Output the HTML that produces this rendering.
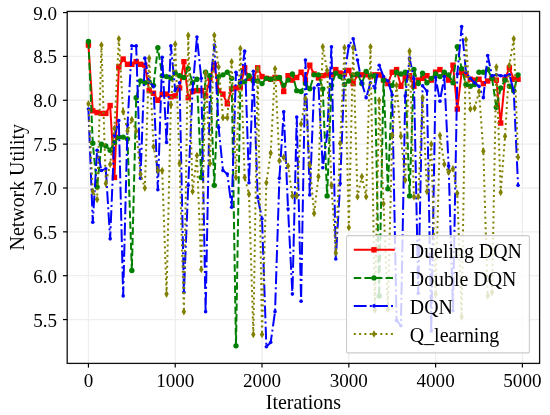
<!DOCTYPE html><html><head><meta charset="utf-8"><title>Network Utility vs Iterations</title><style>html,body{margin:0;padding:0;background:#fff;overflow:hidden}svg{display:block;filter:blur(0.35px)}</style></head><body><svg width="550" height="415" viewBox="0 0 550 415"><rect x="0" y="0" width="550" height="415" fill="#fff"/><g stroke="#eeeeee" stroke-width="1.3"><line x1="88.44" y1="11.4" x2="88.44" y2="363.4"/><line x1="175.23" y1="11.4" x2="175.23" y2="363.4"/><line x1="262.02" y1="11.4" x2="262.02" y2="363.4"/><line x1="348.82" y1="11.4" x2="348.82" y2="363.4"/><line x1="435.61" y1="11.4" x2="435.61" y2="363.4"/><line x1="522.4" y1="11.4" x2="522.4" y2="363.4"/><line x1="67.2" y1="319.56" x2="539.6" y2="319.56"/><line x1="67.2" y1="275.7" x2="539.6" y2="275.7"/><line x1="67.2" y1="231.84" x2="539.6" y2="231.84"/><line x1="67.2" y1="187.99" x2="539.6" y2="187.99"/><line x1="67.2" y1="144.13" x2="539.6" y2="144.13"/><line x1="67.2" y1="100.27" x2="539.6" y2="100.27"/><line x1="67.2" y1="56.42" x2="539.6" y2="56.42"/><line x1="67.2" y1="12.56" x2="539.6" y2="12.56"/></g><defs><clipPath id="c"><rect x="67.2" y="11.4" width="472.40000000000003" height="352.0"/></clipPath><path id="mS" d="M-2.75,-2.75h5.5v5.5h-5.5z"/></defs><g clip-path="url(#c)"><polyline points="88.44,45.01 92.78,110.8 97.12,112.55 101.46,113.43 105.8,113.43 110.14,105.54 114.48,177.46 118.82,66.94 123.16,59.05 127.5,64.31 131.84,64.31 136.18,61.68 140.52,64.31 144.85,65.19 149.19,90.63 153.53,93.26 157.87,100.27 162.21,94.13 166.55,94.13 170.89,96.77 175.23,95.89 179.57,87.99 183.91,61.68 188.25,97.64 192.59,91.5 196.93,90.63 201.27,90.63 205.61,95.89 209.95,78.35 214.29,65.19 218.63,90.63 222.97,94.13 227.31,103.78 231.65,88.87 235.99,87.99 240.33,87.12 244.67,67.82 249.01,78.35 253.34,79.22 257.68,67.82 262.02,76.59 266.36,78.35 270.7,79.22 275.04,77.47 279.38,78.35 283.72,91.5 288.06,75.71 292.4,80.1 296.74,77.47 301.08,72.21 305.42,80.1 309.76,65.19 314.1,73.96 318.44,77.91 322.78,75.71 327.12,74.84 331.46,74.84 335.8,69.57 340.14,73.08 344.48,73.96 348.82,70.45 353.16,83.61 357.5,74.84 361.83,74.84 366.17,74.84 370.51,76.59 374.85,74.84 379.19,74.84 383.53,80.1 387.87,83.61 392.21,72.21 396.55,69.57 400.89,86.24 405.23,77.47 409.57,75.71 413.91,86.24 418.25,80.1 422.59,78.35 426.93,75.71 431.27,80.1 435.61,72.21 439.95,69.57 444.29,73.96 448.63,80.1 452.97,65.19 457.31,109.05 461.65,72.21 465.99,74.84 470.32,79.22 474.66,80.1 479,79.22 483.34,83.61 487.68,80.98 492.02,78.35 496.36,80.1 500.7,123.08 505.04,79.22 509.38,67.82 513.72,79.22 518.06,79.22" fill="none" stroke="#ff0000" stroke-width="2.0" stroke-linejoin="round" stroke-linecap="butt"/><g fill="#ff0000"><rect x="85.74" y="42.31" width="5.4" height="5.4"/><rect x="90.08" y="108.1" width="5.4" height="5.4"/><rect x="94.42" y="109.85" width="5.4" height="5.4"/><rect x="98.76" y="110.73" width="5.4" height="5.4"/><rect x="103.1" y="110.73" width="5.4" height="5.4"/><rect x="107.44" y="102.84" width="5.4" height="5.4"/><rect x="111.78" y="174.76" width="5.4" height="5.4"/><rect x="116.12" y="64.24" width="5.4" height="5.4"/><rect x="120.46" y="56.35" width="5.4" height="5.4"/><rect x="124.8" y="61.61" width="5.4" height="5.4"/><rect x="129.14" y="61.61" width="5.4" height="5.4"/><rect x="133.48" y="58.98" width="5.4" height="5.4"/><rect x="137.82" y="61.61" width="5.4" height="5.4"/><rect x="142.15" y="62.49" width="5.4" height="5.4"/><rect x="146.49" y="87.93" width="5.4" height="5.4"/><rect x="150.83" y="90.56" width="5.4" height="5.4"/><rect x="155.17" y="97.57" width="5.4" height="5.4"/><rect x="159.51" y="91.43" width="5.4" height="5.4"/><rect x="163.85" y="91.43" width="5.4" height="5.4"/><rect x="168.19" y="94.07" width="5.4" height="5.4"/><rect x="172.53" y="93.19" width="5.4" height="5.4"/><rect x="176.87" y="85.29" width="5.4" height="5.4"/><rect x="181.21" y="58.98" width="5.4" height="5.4"/><rect x="185.55" y="94.94" width="5.4" height="5.4"/><rect x="189.89" y="88.8" width="5.4" height="5.4"/><rect x="194.23" y="87.93" width="5.4" height="5.4"/><rect x="198.57" y="87.93" width="5.4" height="5.4"/><rect x="202.91" y="93.19" width="5.4" height="5.4"/><rect x="207.25" y="75.65" width="5.4" height="5.4"/><rect x="211.59" y="62.49" width="5.4" height="5.4"/><rect x="215.93" y="87.93" width="5.4" height="5.4"/><rect x="220.27" y="91.43" width="5.4" height="5.4"/><rect x="224.61" y="101.08" width="5.4" height="5.4"/><rect x="228.95" y="86.17" width="5.4" height="5.4"/><rect x="233.29" y="85.29" width="5.4" height="5.4"/><rect x="237.63" y="84.42" width="5.4" height="5.4"/><rect x="241.97" y="65.12" width="5.4" height="5.4"/><rect x="246.31" y="75.65" width="5.4" height="5.4"/><rect x="250.64" y="76.52" width="5.4" height="5.4"/><rect x="254.98" y="65.12" width="5.4" height="5.4"/><rect x="259.32" y="73.89" width="5.4" height="5.4"/><rect x="263.66" y="75.65" width="5.4" height="5.4"/><rect x="268" y="76.52" width="5.4" height="5.4"/><rect x="272.34" y="74.77" width="5.4" height="5.4"/><rect x="276.68" y="75.65" width="5.4" height="5.4"/><rect x="281.02" y="88.8" width="5.4" height="5.4"/><rect x="285.36" y="73.01" width="5.4" height="5.4"/><rect x="289.7" y="77.4" width="5.4" height="5.4"/><rect x="294.04" y="74.77" width="5.4" height="5.4"/><rect x="298.38" y="69.51" width="5.4" height="5.4"/><rect x="302.72" y="77.4" width="5.4" height="5.4"/><rect x="307.06" y="62.49" width="5.4" height="5.4"/><rect x="311.4" y="71.26" width="5.4" height="5.4"/><rect x="315.74" y="75.21" width="5.4" height="5.4"/><rect x="320.08" y="73.01" width="5.4" height="5.4"/><rect x="324.42" y="72.14" width="5.4" height="5.4"/><rect x="328.76" y="72.14" width="5.4" height="5.4"/><rect x="333.1" y="66.87" width="5.4" height="5.4"/><rect x="337.44" y="70.38" width="5.4" height="5.4"/><rect x="341.78" y="71.26" width="5.4" height="5.4"/><rect x="346.12" y="67.75" width="5.4" height="5.4"/><rect x="350.46" y="80.91" width="5.4" height="5.4"/><rect x="354.8" y="72.14" width="5.4" height="5.4"/><rect x="359.13" y="72.14" width="5.4" height="5.4"/><rect x="363.47" y="72.14" width="5.4" height="5.4"/><rect x="367.81" y="73.89" width="5.4" height="5.4"/><rect x="372.15" y="72.14" width="5.4" height="5.4"/><rect x="376.49" y="72.14" width="5.4" height="5.4"/><rect x="380.83" y="77.4" width="5.4" height="5.4"/><rect x="385.17" y="80.91" width="5.4" height="5.4"/><rect x="389.51" y="69.51" width="5.4" height="5.4"/><rect x="393.85" y="66.87" width="5.4" height="5.4"/><rect x="398.19" y="83.54" width="5.4" height="5.4"/><rect x="402.53" y="74.77" width="5.4" height="5.4"/><rect x="406.87" y="73.01" width="5.4" height="5.4"/><rect x="411.21" y="83.54" width="5.4" height="5.4"/><rect x="415.55" y="77.4" width="5.4" height="5.4"/><rect x="419.89" y="75.65" width="5.4" height="5.4"/><rect x="424.23" y="73.01" width="5.4" height="5.4"/><rect x="428.57" y="77.4" width="5.4" height="5.4"/><rect x="432.91" y="69.51" width="5.4" height="5.4"/><rect x="437.25" y="66.87" width="5.4" height="5.4"/><rect x="441.59" y="71.26" width="5.4" height="5.4"/><rect x="445.93" y="77.4" width="5.4" height="5.4"/><rect x="450.27" y="62.49" width="5.4" height="5.4"/><rect x="454.61" y="106.35" width="5.4" height="5.4"/><rect x="458.95" y="69.51" width="5.4" height="5.4"/><rect x="463.29" y="72.14" width="5.4" height="5.4"/><rect x="467.62" y="76.52" width="5.4" height="5.4"/><rect x="471.96" y="77.4" width="5.4" height="5.4"/><rect x="476.3" y="76.52" width="5.4" height="5.4"/><rect x="480.64" y="80.91" width="5.4" height="5.4"/><rect x="484.98" y="78.28" width="5.4" height="5.4"/><rect x="489.32" y="75.65" width="5.4" height="5.4"/><rect x="493.66" y="77.4" width="5.4" height="5.4"/><rect x="498" y="120.38" width="5.4" height="5.4"/><rect x="502.34" y="76.52" width="5.4" height="5.4"/><rect x="506.68" y="65.12" width="5.4" height="5.4"/><rect x="511.02" y="76.52" width="5.4" height="5.4"/><rect x="515.36" y="76.52" width="5.4" height="5.4"/></g><polyline points="88.44,41.51 92.78,143.25 97.12,187.11 101.46,144.13 105.8,145.89 110.14,150.27 114.48,142.38 118.82,137.11 123.16,137.11 127.5,138.87 131.84,270.44 136.18,97.64 140.52,80.98 144.85,82.73 149.19,81.85 153.53,85.36 157.87,47.65 162.21,75.71 166.55,76.59 170.89,78.35 175.23,73.08 179.57,75.71 183.91,77.47 188.25,68.7 192.59,82.73 196.93,79.22 201.27,177.46 205.61,72.21 209.95,75.71 214.29,185.36 218.63,76.59 222.97,74.84 227.31,72.21 231.65,78.35 235.99,345.87 240.33,82.73 244.67,81.85 249.01,75.71 253.34,80.98 257.68,80.98 262.02,83.61 266.36,78.35 270.7,79.22 275.04,78.35 279.38,77.47 283.72,85.36 288.06,80.1 292.4,73.96 296.74,90.63 301.08,91.5 305.42,83.61 309.76,88.87 314.1,74.84 318.44,74.84 322.78,88.87 327.12,195.88 331.46,85.36 335.8,73.08 340.14,76.59 344.48,84.49 348.82,80.98 353.16,74.84 357.5,73.96 361.83,83.61 366.17,71.33 370.51,75.71 374.85,75.71 379.19,295.88 383.53,80.1 387.87,188.87 392.21,85.36 396.55,72.21 400.89,73.96 405.23,72.21 409.57,195.88 413.91,69.57 418.25,83.61 422.59,73.08 426.93,82.73 431.27,78.35 435.61,73.96 439.95,76.59 444.29,72.21 448.63,74.84 452.97,82.73 457.31,46.77 461.65,68.7 465.99,84.49 470.32,86.24 474.66,84.49 479,72.21 483.34,72.21 487.68,69.57 492.02,78.35 496.36,107.29 500.7,87.99 505.04,80.1 509.38,86.24 513.72,90.63 518.06,74.84" fill="none" stroke="#008000" stroke-width="2.0" stroke-linejoin="round" stroke-linecap="butt" stroke-dasharray="7.4,3.2"/><g fill="#008000"><circle cx="88.44" cy="41.51" r="2.7"/><circle cx="92.78" cy="143.25" r="2.7"/><circle cx="97.12" cy="187.11" r="2.7"/><circle cx="101.46" cy="144.13" r="2.7"/><circle cx="105.8" cy="145.89" r="2.7"/><circle cx="110.14" cy="150.27" r="2.7"/><circle cx="114.48" cy="142.38" r="2.7"/><circle cx="118.82" cy="137.11" r="2.7"/><circle cx="123.16" cy="137.11" r="2.7"/><circle cx="127.5" cy="138.87" r="2.7"/><circle cx="131.84" cy="270.44" r="2.7"/><circle cx="136.18" cy="97.64" r="2.7"/><circle cx="140.52" cy="80.98" r="2.7"/><circle cx="144.85" cy="82.73" r="2.7"/><circle cx="149.19" cy="81.85" r="2.7"/><circle cx="153.53" cy="85.36" r="2.7"/><circle cx="157.87" cy="47.65" r="2.7"/><circle cx="162.21" cy="75.71" r="2.7"/><circle cx="166.55" cy="76.59" r="2.7"/><circle cx="170.89" cy="78.35" r="2.7"/><circle cx="175.23" cy="73.08" r="2.7"/><circle cx="179.57" cy="75.71" r="2.7"/><circle cx="183.91" cy="77.47" r="2.7"/><circle cx="188.25" cy="68.7" r="2.7"/><circle cx="192.59" cy="82.73" r="2.7"/><circle cx="196.93" cy="79.22" r="2.7"/><circle cx="201.27" cy="177.46" r="2.7"/><circle cx="205.61" cy="72.21" r="2.7"/><circle cx="209.95" cy="75.71" r="2.7"/><circle cx="214.29" cy="185.36" r="2.7"/><circle cx="218.63" cy="76.59" r="2.7"/><circle cx="222.97" cy="74.84" r="2.7"/><circle cx="227.31" cy="72.21" r="2.7"/><circle cx="231.65" cy="78.35" r="2.7"/><circle cx="235.99" cy="345.87" r="2.7"/><circle cx="240.33" cy="82.73" r="2.7"/><circle cx="244.67" cy="81.85" r="2.7"/><circle cx="249.01" cy="75.71" r="2.7"/><circle cx="253.34" cy="80.98" r="2.7"/><circle cx="257.68" cy="80.98" r="2.7"/><circle cx="262.02" cy="83.61" r="2.7"/><circle cx="266.36" cy="78.35" r="2.7"/><circle cx="270.7" cy="79.22" r="2.7"/><circle cx="275.04" cy="78.35" r="2.7"/><circle cx="279.38" cy="77.47" r="2.7"/><circle cx="283.72" cy="85.36" r="2.7"/><circle cx="288.06" cy="80.1" r="2.7"/><circle cx="292.4" cy="73.96" r="2.7"/><circle cx="296.74" cy="90.63" r="2.7"/><circle cx="301.08" cy="91.5" r="2.7"/><circle cx="305.42" cy="83.61" r="2.7"/><circle cx="309.76" cy="88.87" r="2.7"/><circle cx="314.1" cy="74.84" r="2.7"/><circle cx="318.44" cy="74.84" r="2.7"/><circle cx="322.78" cy="88.87" r="2.7"/><circle cx="327.12" cy="195.88" r="2.7"/><circle cx="331.46" cy="85.36" r="2.7"/><circle cx="335.8" cy="73.08" r="2.7"/><circle cx="340.14" cy="76.59" r="2.7"/><circle cx="344.48" cy="84.49" r="2.7"/><circle cx="348.82" cy="80.98" r="2.7"/><circle cx="353.16" cy="74.84" r="2.7"/><circle cx="357.5" cy="73.96" r="2.7"/><circle cx="361.83" cy="83.61" r="2.7"/><circle cx="366.17" cy="71.33" r="2.7"/><circle cx="370.51" cy="75.71" r="2.7"/><circle cx="374.85" cy="75.71" r="2.7"/><circle cx="379.19" cy="295.88" r="2.7"/><circle cx="383.53" cy="80.1" r="2.7"/><circle cx="387.87" cy="188.87" r="2.7"/><circle cx="392.21" cy="85.36" r="2.7"/><circle cx="396.55" cy="72.21" r="2.7"/><circle cx="400.89" cy="73.96" r="2.7"/><circle cx="405.23" cy="72.21" r="2.7"/><circle cx="409.57" cy="195.88" r="2.7"/><circle cx="413.91" cy="69.57" r="2.7"/><circle cx="418.25" cy="83.61" r="2.7"/><circle cx="422.59" cy="73.08" r="2.7"/><circle cx="426.93" cy="82.73" r="2.7"/><circle cx="431.27" cy="78.35" r="2.7"/><circle cx="435.61" cy="73.96" r="2.7"/><circle cx="439.95" cy="76.59" r="2.7"/><circle cx="444.29" cy="72.21" r="2.7"/><circle cx="448.63" cy="74.84" r="2.7"/><circle cx="452.97" cy="82.73" r="2.7"/><circle cx="457.31" cy="46.77" r="2.7"/><circle cx="461.65" cy="68.7" r="2.7"/><circle cx="465.99" cy="84.49" r="2.7"/><circle cx="470.32" cy="86.24" r="2.7"/><circle cx="474.66" cy="84.49" r="2.7"/><circle cx="479" cy="72.21" r="2.7"/><circle cx="483.34" cy="72.21" r="2.7"/><circle cx="487.68" cy="69.57" r="2.7"/><circle cx="492.02" cy="78.35" r="2.7"/><circle cx="496.36" cy="107.29" r="2.7"/><circle cx="500.7" cy="87.99" r="2.7"/><circle cx="505.04" cy="80.1" r="2.7"/><circle cx="509.38" cy="86.24" r="2.7"/><circle cx="513.72" cy="90.63" r="2.7"/><circle cx="518.06" cy="74.84" r="2.7"/></g><polyline points="88.44,109.05 92.78,222.2 97.12,150.27 101.46,170.45 105.8,168.69 110.14,238.86 114.48,135.36 118.82,120.45 123.16,295.88 127.5,124.83 131.84,45.89 136.18,45.89 140.52,178.34 144.85,58.17 149.19,81.85 153.53,86.24 157.87,189.74 162.21,57.29 166.55,142.38 170.89,45.89 175.23,90.63 179.57,82.73 183.91,292.37 188.25,185.36 192.59,89.75 196.93,37.12 201.27,78.35 205.61,311.66 209.95,87.12 214.29,45.01 218.63,127.47 222.97,170.45 227.31,173.95 231.65,207.29 235.99,72.21 240.33,82.73 244.67,51.15 249.01,182.73 253.34,71.33 257.68,197.64 262.02,218.69 266.36,346.75 270.7,342.36 275.04,311.66 279.38,178.34 283.72,111.68 288.06,209.04 292.4,294.12 296.74,116.94 301.08,301.14 305.42,59.93 309.76,195.01 314.1,87.99 318.44,84.49 322.78,167.81 327.12,135.36 331.46,46.77 335.8,259.04 340.14,183.6 344.48,73.96 348.82,45.89 353.16,38.87 357.5,59.93 361.83,82.73 366.17,97.64 370.51,82.73 374.85,87.99 379.19,65.19 383.53,76.59 387.87,80.98 392.21,95.01 396.55,320.44 400.89,325.7 405.23,95.89 409.57,58.17 413.91,78.78 418.25,293.24 422.59,85.8 426.93,91.06 431.27,330.96 435.61,77.47 439.95,101.15 444.29,76.59 448.63,166.06 452.97,310.79 457.31,73.96 461.65,26.59 465.99,72.21 470.32,78.35 474.66,82.73 479,86.24 483.34,97.64 487.68,55.54 492.02,75.71 496.36,74.84 500.7,75.71 505.04,75.71 509.38,74.84 513.72,90.63 518.06,185.36" fill="none" stroke="#0000ff" stroke-width="2.0" stroke-linejoin="round" stroke-linecap="butt" stroke-dasharray="12.8,3.2,2,3.2"/><g fill="#0000ff"><circle cx="88.44" cy="109.05" r="1.8"/><circle cx="92.78" cy="222.2" r="1.8"/><circle cx="97.12" cy="150.27" r="1.8"/><circle cx="101.46" cy="170.45" r="1.8"/><circle cx="105.8" cy="168.69" r="1.8"/><circle cx="110.14" cy="238.86" r="1.8"/><circle cx="114.48" cy="135.36" r="1.8"/><circle cx="118.82" cy="120.45" r="1.8"/><circle cx="123.16" cy="295.88" r="1.8"/><circle cx="127.5" cy="124.83" r="1.8"/><circle cx="131.84" cy="45.89" r="1.8"/><circle cx="136.18" cy="45.89" r="1.8"/><circle cx="140.52" cy="178.34" r="1.8"/><circle cx="144.85" cy="58.17" r="1.8"/><circle cx="149.19" cy="81.85" r="1.8"/><circle cx="153.53" cy="86.24" r="1.8"/><circle cx="157.87" cy="189.74" r="1.8"/><circle cx="162.21" cy="57.29" r="1.8"/><circle cx="166.55" cy="142.38" r="1.8"/><circle cx="170.89" cy="45.89" r="1.8"/><circle cx="175.23" cy="90.63" r="1.8"/><circle cx="179.57" cy="82.73" r="1.8"/><circle cx="183.91" cy="292.37" r="1.8"/><circle cx="188.25" cy="185.36" r="1.8"/><circle cx="192.59" cy="89.75" r="1.8"/><circle cx="196.93" cy="37.12" r="1.8"/><circle cx="201.27" cy="78.35" r="1.8"/><circle cx="205.61" cy="311.66" r="1.8"/><circle cx="209.95" cy="87.12" r="1.8"/><circle cx="214.29" cy="45.01" r="1.8"/><circle cx="218.63" cy="127.47" r="1.8"/><circle cx="222.97" cy="170.45" r="1.8"/><circle cx="227.31" cy="173.95" r="1.8"/><circle cx="231.65" cy="207.29" r="1.8"/><circle cx="235.99" cy="72.21" r="1.8"/><circle cx="240.33" cy="82.73" r="1.8"/><circle cx="244.67" cy="51.15" r="1.8"/><circle cx="249.01" cy="182.73" r="1.8"/><circle cx="253.34" cy="71.33" r="1.8"/><circle cx="257.68" cy="197.64" r="1.8"/><circle cx="262.02" cy="218.69" r="1.8"/><circle cx="266.36" cy="346.75" r="1.8"/><circle cx="270.7" cy="342.36" r="1.8"/><circle cx="275.04" cy="311.66" r="1.8"/><circle cx="279.38" cy="178.34" r="1.8"/><circle cx="283.72" cy="111.68" r="1.8"/><circle cx="288.06" cy="209.04" r="1.8"/><circle cx="292.4" cy="294.12" r="1.8"/><circle cx="296.74" cy="116.94" r="1.8"/><circle cx="301.08" cy="301.14" r="1.8"/><circle cx="305.42" cy="59.93" r="1.8"/><circle cx="309.76" cy="195.01" r="1.8"/><circle cx="314.1" cy="87.99" r="1.8"/><circle cx="318.44" cy="84.49" r="1.8"/><circle cx="322.78" cy="167.81" r="1.8"/><circle cx="327.12" cy="135.36" r="1.8"/><circle cx="331.46" cy="46.77" r="1.8"/><circle cx="335.8" cy="259.04" r="1.8"/><circle cx="340.14" cy="183.6" r="1.8"/><circle cx="344.48" cy="73.96" r="1.8"/><circle cx="348.82" cy="45.89" r="1.8"/><circle cx="353.16" cy="38.87" r="1.8"/><circle cx="357.5" cy="59.93" r="1.8"/><circle cx="361.83" cy="82.73" r="1.8"/><circle cx="366.17" cy="97.64" r="1.8"/><circle cx="370.51" cy="82.73" r="1.8"/><circle cx="374.85" cy="87.99" r="1.8"/><circle cx="379.19" cy="65.19" r="1.8"/><circle cx="383.53" cy="76.59" r="1.8"/><circle cx="387.87" cy="80.98" r="1.8"/><circle cx="392.21" cy="95.01" r="1.8"/><circle cx="396.55" cy="320.44" r="1.8"/><circle cx="400.89" cy="325.7" r="1.8"/><circle cx="405.23" cy="95.89" r="1.8"/><circle cx="409.57" cy="58.17" r="1.8"/><circle cx="413.91" cy="78.78" r="1.8"/><circle cx="418.25" cy="293.24" r="1.8"/><circle cx="422.59" cy="85.8" r="1.8"/><circle cx="426.93" cy="91.06" r="1.8"/><circle cx="431.27" cy="330.96" r="1.8"/><circle cx="435.61" cy="77.47" r="1.8"/><circle cx="439.95" cy="101.15" r="1.8"/><circle cx="444.29" cy="76.59" r="1.8"/><circle cx="448.63" cy="166.06" r="1.8"/><circle cx="452.97" cy="310.79" r="1.8"/><circle cx="457.31" cy="73.96" r="1.8"/><circle cx="461.65" cy="26.59" r="1.8"/><circle cx="465.99" cy="72.21" r="1.8"/><circle cx="470.32" cy="78.35" r="1.8"/><circle cx="474.66" cy="82.73" r="1.8"/><circle cx="479" cy="86.24" r="1.8"/><circle cx="483.34" cy="97.64" r="1.8"/><circle cx="487.68" cy="55.54" r="1.8"/><circle cx="492.02" cy="75.71" r="1.8"/><circle cx="496.36" cy="74.84" r="1.8"/><circle cx="500.7" cy="75.71" r="1.8"/><circle cx="505.04" cy="75.71" r="1.8"/><circle cx="509.38" cy="74.84" r="1.8"/><circle cx="513.72" cy="90.63" r="1.8"/><circle cx="518.06" cy="185.36" r="1.8"/></g><polyline points="88.44,103.78 92.78,191.5 97.12,199.39 101.46,45.01 105.8,183.6 110.14,164.31 114.48,128.34 118.82,38.87 123.16,111.68 127.5,130.97 131.84,119.57 136.18,130.97 140.52,173.95 144.85,187.99 149.19,58.17 153.53,146.76 157.87,170.45 162.21,170.45 166.55,294.12 170.89,104.66 175.23,44.14 179.57,163.43 183.91,311.66 188.25,35.37 192.59,191.5 196.93,155.53 201.27,269.56 205.61,73.08 209.95,163.43 214.29,35.37 218.63,66.94 222.97,117.82 227.31,117.82 231.65,61.68 235.99,177.46 240.33,48.52 244.67,177.46 249.01,194.13 253.34,334.47 257.68,68.7 262.02,334.47 266.36,182.73 270.7,152.9 275.04,68.7 279.38,160.8 283.72,157.29 288.06,166.06 292.4,195.88 296.74,195.88 301.08,123.96 305.42,98.52 309.76,165.18 314.1,213.43 318.44,176.59 322.78,46.77 327.12,70.45 331.46,185.36 335.8,252.9 340.14,143.25 344.48,47.65 348.82,227.46 353.16,47.65 357.5,196.76 361.83,176.59 366.17,196.76 370.51,46.77 374.85,309.91 379.19,100.27 383.53,203.78 387.87,309.03 392.21,135.36 396.55,85.36 400.89,136.24 405.23,180.09 409.57,51.15 413.91,196.76 418.25,196.76 422.59,97.64 426.93,191.5 431.27,144.13 435.61,294.12 439.95,135.36 444.29,164.31 448.63,172.2 452.97,168.69 457.31,193.25 461.65,316.93 465.99,39.75 470.32,109.05 474.66,108.17 479,91.5 483.34,151.15 487.68,295.88 492.02,292.37 496.36,66.94 500.7,192.37 505.04,136.24 509.38,65.19 513.72,38.87 518.06,157.29" fill="none" stroke="#808000" stroke-width="2.0" stroke-linejoin="round" stroke-linecap="butt" stroke-dasharray="2,3.3"/><g fill="#808000"><path d="M88.44,99.98L90.64,103.78L88.44,107.58L86.24,103.78Z"/><path d="M92.78,187.7L94.98,191.5L92.78,195.3L90.58,191.5Z"/><path d="M97.12,195.59L99.32,199.39L97.12,203.19L94.92,199.39Z"/><path d="M101.46,41.21L103.66,45.01L101.46,48.81L99.26,45.01Z"/><path d="M105.8,179.8L108,183.6L105.8,187.4L103.6,183.6Z"/><path d="M110.14,160.51L112.34,164.31L110.14,168.11L107.94,164.31Z"/><path d="M114.48,124.54L116.68,128.34L114.48,132.14L112.28,128.34Z"/><path d="M118.82,35.07L121.02,38.87L118.82,42.67L116.62,38.87Z"/><path d="M123.16,107.88L125.36,111.68L123.16,115.48L120.96,111.68Z"/><path d="M127.5,127.17L129.7,130.97L127.5,134.77L125.3,130.97Z"/><path d="M131.84,115.77L134.04,119.57L131.84,123.37L129.64,119.57Z"/><path d="M136.18,127.17L138.38,130.97L136.18,134.77L133.98,130.97Z"/><path d="M140.52,170.15L142.72,173.95L140.52,177.75L138.32,173.95Z"/><path d="M144.85,184.19L147.05,187.99L144.85,191.79L142.65,187.99Z"/><path d="M149.19,54.37L151.39,58.17L149.19,61.97L146.99,58.17Z"/><path d="M153.53,142.96L155.73,146.76L153.53,150.56L151.33,146.76Z"/><path d="M157.87,166.65L160.07,170.45L157.87,174.25L155.67,170.45Z"/><path d="M162.21,166.65L164.41,170.45L162.21,174.25L160.01,170.45Z"/><path d="M166.55,290.32L168.75,294.12L166.55,297.92L164.35,294.12Z"/><path d="M170.89,100.86L173.09,104.66L170.89,108.46L168.69,104.66Z"/><path d="M175.23,40.34L177.43,44.14L175.23,47.94L173.03,44.14Z"/><path d="M179.57,159.63L181.77,163.43L179.57,167.23L177.37,163.43Z"/><path d="M183.91,307.86L186.11,311.66L183.91,315.46L181.71,311.66Z"/><path d="M188.25,31.57L190.45,35.37L188.25,39.17L186.05,35.37Z"/><path d="M192.59,187.7L194.79,191.5L192.59,195.3L190.39,191.5Z"/><path d="M196.93,151.73L199.13,155.53L196.93,159.33L194.73,155.53Z"/><path d="M201.27,265.76L203.47,269.56L201.27,273.36L199.07,269.56Z"/><path d="M205.61,69.28L207.81,73.08L205.61,76.88L203.41,73.08Z"/><path d="M209.95,159.63L212.15,163.43L209.95,167.23L207.75,163.43Z"/><path d="M214.29,31.57L216.49,35.37L214.29,39.17L212.09,35.37Z"/><path d="M218.63,63.14L220.83,66.94L218.63,70.74L216.43,66.94Z"/><path d="M222.97,114.02L225.17,117.82L222.97,121.62L220.77,117.82Z"/><path d="M227.31,114.02L229.51,117.82L227.31,121.62L225.11,117.82Z"/><path d="M231.65,57.88L233.85,61.68L231.65,65.48L229.45,61.68Z"/><path d="M235.99,173.66L238.19,177.46L235.99,181.26L233.79,177.46Z"/><path d="M240.33,44.72L242.53,48.52L240.33,52.32L238.13,48.52Z"/><path d="M244.67,173.66L246.87,177.46L244.67,181.26L242.47,177.46Z"/><path d="M249.01,190.33L251.21,194.13L249.01,197.93L246.81,194.13Z"/><path d="M253.34,330.67L255.54,334.47L253.34,338.27L251.14,334.47Z"/><path d="M257.68,64.9L259.88,68.7L257.68,72.5L255.48,68.7Z"/><path d="M262.02,330.67L264.22,334.47L262.02,338.27L259.82,334.47Z"/><path d="M266.36,178.93L268.56,182.73L266.36,186.53L264.16,182.73Z"/><path d="M270.7,149.1L272.9,152.9L270.7,156.7L268.5,152.9Z"/><path d="M275.04,64.9L277.24,68.7L275.04,72.5L272.84,68.7Z"/><path d="M279.38,157L281.58,160.8L279.38,164.6L277.18,160.8Z"/><path d="M283.72,153.49L285.92,157.29L283.72,161.09L281.52,157.29Z"/><path d="M288.06,162.26L290.26,166.06L288.06,169.86L285.86,166.06Z"/><path d="M292.4,192.08L294.6,195.88L292.4,199.68L290.2,195.88Z"/><path d="M296.74,192.08L298.94,195.88L296.74,199.68L294.54,195.88Z"/><path d="M301.08,120.16L303.28,123.96L301.08,127.76L298.88,123.96Z"/><path d="M305.42,94.72L307.62,98.52L305.42,102.32L303.22,98.52Z"/><path d="M309.76,161.38L311.96,165.18L309.76,168.98L307.56,165.18Z"/><path d="M314.1,209.63L316.3,213.43L314.1,217.23L311.9,213.43Z"/><path d="M318.44,172.79L320.64,176.59L318.44,180.39L316.24,176.59Z"/><path d="M322.78,42.97L324.98,46.77L322.78,50.57L320.58,46.77Z"/><path d="M327.12,66.65L329.32,70.45L327.12,74.25L324.92,70.45Z"/><path d="M331.46,181.56L333.66,185.36L331.46,189.16L329.26,185.36Z"/><path d="M335.8,249.1L338,252.9L335.8,256.7L333.6,252.9Z"/><path d="M340.14,139.45L342.34,143.25L340.14,147.05L337.94,143.25Z"/><path d="M344.48,43.85L346.68,47.65L344.48,51.45L342.28,47.65Z"/><path d="M348.82,223.66L351.02,227.46L348.82,231.26L346.62,227.46Z"/><path d="M353.16,43.85L355.36,47.65L353.16,51.45L350.96,47.65Z"/><path d="M357.5,192.96L359.7,196.76L357.5,200.56L355.3,196.76Z"/><path d="M361.83,172.79L364.03,176.59L361.83,180.39L359.63,176.59Z"/><path d="M366.17,192.96L368.37,196.76L366.17,200.56L363.97,196.76Z"/><path d="M370.51,42.97L372.71,46.77L370.51,50.57L368.31,46.77Z"/><path d="M374.85,306.11L377.05,309.91L374.85,313.71L372.65,309.91Z"/><path d="M379.19,96.47L381.39,100.27L379.19,104.07L376.99,100.27Z"/><path d="M383.53,199.98L385.73,203.78L383.53,207.58L381.33,203.78Z"/><path d="M387.87,305.23L390.07,309.03L387.87,312.83L385.67,309.03Z"/><path d="M392.21,131.56L394.41,135.36L392.21,139.16L390.01,135.36Z"/><path d="M396.55,81.56L398.75,85.36L396.55,89.16L394.35,85.36Z"/><path d="M400.89,132.44L403.09,136.24L400.89,140.04L398.69,136.24Z"/><path d="M405.23,176.29L407.43,180.09L405.23,183.89L403.03,180.09Z"/><path d="M409.57,47.35L411.77,51.15L409.57,54.95L407.37,51.15Z"/><path d="M413.91,192.96L416.11,196.76L413.91,200.56L411.71,196.76Z"/><path d="M418.25,192.96L420.45,196.76L418.25,200.56L416.05,196.76Z"/><path d="M422.59,93.84L424.79,97.64L422.59,101.44L420.39,97.64Z"/><path d="M426.93,187.7L429.13,191.5L426.93,195.3L424.73,191.5Z"/><path d="M431.27,140.33L433.47,144.13L431.27,147.93L429.07,144.13Z"/><path d="M435.61,290.32L437.81,294.12L435.61,297.92L433.41,294.12Z"/><path d="M439.95,131.56L442.15,135.36L439.95,139.16L437.75,135.36Z"/><path d="M444.29,160.51L446.49,164.31L444.29,168.11L442.09,164.31Z"/><path d="M448.63,168.4L450.83,172.2L448.63,176L446.43,172.2Z"/><path d="M452.97,164.89L455.17,168.69L452.97,172.49L450.77,168.69Z"/><path d="M457.31,189.45L459.51,193.25L457.31,197.05L455.11,193.25Z"/><path d="M461.65,313.13L463.85,316.93L461.65,320.73L459.45,316.93Z"/><path d="M465.99,35.95L468.19,39.75L465.99,43.55L463.79,39.75Z"/><path d="M470.32,105.25L472.52,109.05L470.32,112.85L468.12,109.05Z"/><path d="M474.66,104.37L476.86,108.17L474.66,111.97L472.46,108.17Z"/><path d="M479,87.7L481.2,91.5L479,95.3L476.8,91.5Z"/><path d="M483.34,147.35L485.54,151.15L483.34,154.95L481.14,151.15Z"/><path d="M487.68,292.08L489.88,295.88L487.68,299.68L485.48,295.88Z"/><path d="M492.02,288.57L494.22,292.37L492.02,296.17L489.82,292.37Z"/><path d="M496.36,63.14L498.56,66.94L496.36,70.74L494.16,66.94Z"/><path d="M500.7,188.57L502.9,192.37L500.7,196.17L498.5,192.37Z"/><path d="M505.04,132.44L507.24,136.24L505.04,140.04L502.84,136.24Z"/><path d="M509.38,61.39L511.58,65.19L509.38,68.99L507.18,65.19Z"/><path d="M513.72,35.07L515.92,38.87L513.72,42.67L511.52,38.87Z"/><path d="M518.06,153.49L520.26,157.29L518.06,161.09L515.86,157.29Z"/></g></g><rect x="67.2" y="11.4" width="472.4" height="352" fill="none" stroke="#111" stroke-width="1.3"/><g stroke="#000" stroke-width="1.2"><line x1="88.44" y1="363.4" x2="88.44" y2="367.59999999999997"/><line x1="175.23" y1="363.4" x2="175.23" y2="367.59999999999997"/><line x1="262.02" y1="363.4" x2="262.02" y2="367.59999999999997"/><line x1="348.82" y1="363.4" x2="348.82" y2="367.59999999999997"/><line x1="435.61" y1="363.4" x2="435.61" y2="367.59999999999997"/><line x1="522.4" y1="363.4" x2="522.4" y2="367.59999999999997"/><line x1="67.2" y1="319.56" x2="63.0" y2="319.56"/><line x1="67.2" y1="275.7" x2="63.0" y2="275.7"/><line x1="67.2" y1="231.84" x2="63.0" y2="231.84"/><line x1="67.2" y1="187.99" x2="63.0" y2="187.99"/><line x1="67.2" y1="144.13" x2="63.0" y2="144.13"/><line x1="67.2" y1="100.27" x2="63.0" y2="100.27"/><line x1="67.2" y1="56.42" x2="63.0" y2="56.42"/><line x1="67.2" y1="12.56" x2="63.0" y2="12.56"/></g><g font-family="Liberation Serif, serif" font-size="19.1" fill="#000"><text x="88.44" y="386.7" text-anchor="middle">0</text><text x="175.23" y="386.7" text-anchor="middle">1000</text><text x="262.02" y="386.7" text-anchor="middle">2000</text><text x="348.82" y="386.7" text-anchor="middle">3000</text><text x="435.61" y="386.7" text-anchor="middle">4000</text><text x="522.4" y="386.7" text-anchor="middle">5000</text><text x="57.1" y="326.56" text-anchor="end">5.5</text><text x="57.1" y="282.7" text-anchor="end">6.0</text><text x="57.1" y="238.84" text-anchor="end">6.5</text><text x="57.1" y="194.99" text-anchor="end">7.0</text><text x="57.1" y="151.13" text-anchor="end">7.5</text><text x="57.1" y="107.27" text-anchor="end">8.0</text><text x="57.1" y="63.42" text-anchor="end">8.5</text><text x="57.1" y="19.56" text-anchor="end">9.0</text><text x="303.4" y="409.2" text-anchor="middle" font-size="19.9">Iterations</text><text transform="translate(23.5,187.2) rotate(-90)" text-anchor="middle" font-size="19.9">Network Utility</text></g><rect x="346.5" y="235.6" width="182.9" height="117.3" rx="2" ry="2" fill="#fff" fill-opacity="0.8" stroke="#cccccc" stroke-width="1.1"/><line x1="353.8" y1="249.8" x2="394.8" y2="249.8" stroke="#ff0000" stroke-width="2.0"/><rect x="371.3" y="247.10000000000002" width="5.4" height="5.4" fill="#ff0000"/><text x="409.8" y="258.1" font-family="Liberation Serif, serif" font-size="19.9" fill="#000">Dueling DQN</text><line x1="353.8" y1="277.9" x2="394.8" y2="277.9" stroke="#008000" stroke-width="2.0" stroke-dasharray="7.4,3.2"/><circle cx="374.0" cy="277.9" r="2.7" fill="#008000"/><text x="409.8" y="286.2" font-family="Liberation Serif, serif" font-size="19.9" fill="#000">Double DQN</text><line x1="353.8" y1="305.9" x2="394.8" y2="305.9" stroke="#0000ff" stroke-width="2.0" stroke-dasharray="12.8,3.2,2,3.2"/><circle cx="374.0" cy="305.9" r="1.8" fill="#0000ff"/><text x="409.8" y="314.2" font-family="Liberation Serif, serif" font-size="19.9" fill="#000">DQN</text><line x1="353.8" y1="334.0" x2="394.8" y2="334.0" stroke="#808000" stroke-width="2.0" stroke-dasharray="2,3.3"/><path d="M374.0,330.2L376.2,334.0L374.0,337.8L371.8,334.0Z" fill="#808000"/><text x="409.8" y="342.3" font-family="Liberation Serif, serif" font-size="19.9" fill="#000">Q_learning</text></svg></body></html>
